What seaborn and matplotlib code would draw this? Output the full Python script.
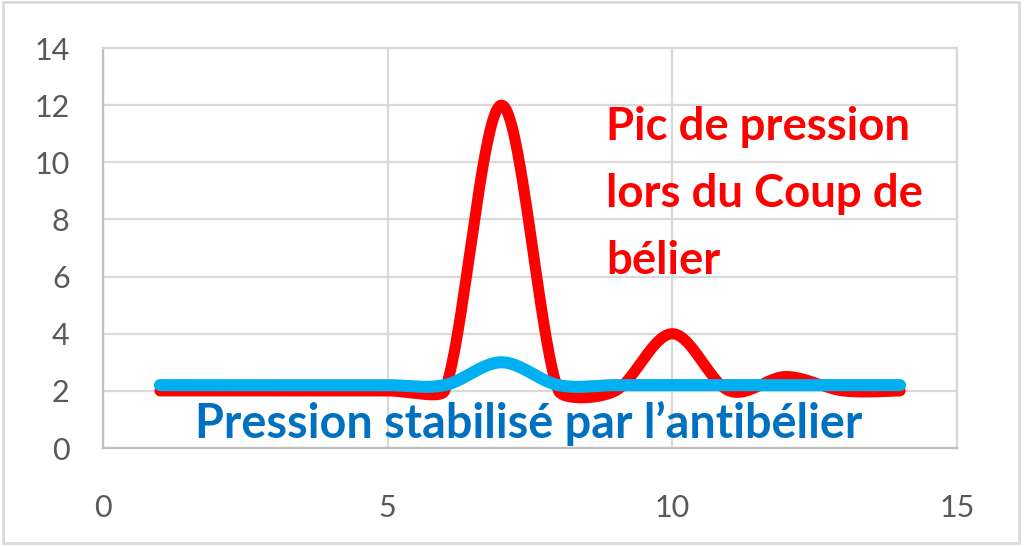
import numpy as np
import pandas as pd
import matplotlib
matplotlib.use("Agg")
import matplotlib.pyplot as plt
import seaborn as sns
from matplotlib.patches import Rectangle

# values
x_points = [1, 2, 3, 4, 5, 6, 7, 8, 9, 10, 11, 12, 13, 14]
pic_pression = [2, 2, 2, 2, 2, 2, 12, 2, 2, 4, 2, 2.5, 2, 2]
pression_antibelier = [2.2, 2.2, 2.2, 2.2, 2.2, 2.2, 3, 2.2, 2.2, 2.2, 2.2, 2.2, 2.2, 2.2]

x_ticks = [0, 5, 10, 15]
y_ticks = [0, 2, 4, 6, 8, 10, 12, 14]

red_label = ["Pic de pression", "lors du Coup de", "bélier"]
blue_label = "Pression stabilisé par l\u2019antibélier"

RED = "#FF0000"
BLUE = "#00B0F0"
DARK_BLUE = "#0070C0"
GRID = "#D9D9D9"
TICK = "#595959"


def smooth(xs, ys, sx=57.0, sy=28.57, n=40):
    # Excel style smoothed line: bezier segments, control arms shortened
    # when the neighbour chord is long compared to the segment (screen pixels)
    p = np.column_stack([np.asarray(xs, float) * sx, np.asarray(ys, float) * sy])
    p = np.vstack([p[0], p, p[-1]])
    out = []
    t = np.linspace(0, 1, n)[:, None]
    for i in range(1, len(p) - 2):
        p0, p1, p2, p3 = p[i - 1], p[i], p[i + 1], p[i + 2]
        d02 = np.linalg.norm(p2 - p0)
        d12 = np.linalg.norm(p2 - p1)
        d13 = np.linalg.norm(p3 - p1)
        f1 = 1 / 6 if d02 / 6 < d12 / 2 else d12 / (6 * d02)
        f2 = 1 / 6 if d13 / 6 < d12 / 2 else d12 / (6 * d13)
        c1 = p1 + (p2 - p0) * f1
        c2 = p2 - (p3 - p1) * f2
        seg = ((1 - t) ** 3) * p1 + 3 * ((1 - t) ** 2) * t * c1 + 3 * (1 - t) * t ** 2 * c2 + t ** 3 * p2
        out.append(seg if i == 1 else seg[1:])
    out = np.vstack(out)
    return pd.DataFrame({"x": out[:, 0] / sx, "y": out[:, 1] / sy})


def main():
    sns.set_theme(style="white")
    plt.rcParams["font.family"] = ["Lato", "DejaVu Sans"]

    fig = plt.figure(figsize=(10.24, 5.46), dpi=100)
    ax = fig.add_axes([103 / 1024, 98 / 546, 854 / 1024, 400 / 546])

    red_df = smooth(x_points, pic_pression)
    blue_df = smooth(x_points, pression_antibelier)

    sns.lineplot(data=red_df, x="x", y="y", sort=False, ax=ax, color=RED,
                 linewidth=8, solid_capstyle="round", zorder=3)
    sns.lineplot(data=blue_df, x="x", y="y", sort=False, ax=ax, color=BLUE,
                 linewidth=8.7, solid_capstyle="round", zorder=4)

    ax.set_xlim(0, 15)
    ax.set_ylim(0, 14)
    ax.set_xticks(x_ticks)
    ax.set_yticks(y_ticks)
    ax.set_xlabel("")
    ax.set_ylabel("")
    ax.grid(True, color=GRID, linewidth=1.6)
    ax.set_axisbelow(True)
    for side in ax.spines.values():
        side.set_color(GRID)
        side.set_linewidth(1.6)
    ax.spines["left"].set_color("#BFBFBF")
    ax.spines["bottom"].set_color("#BFBFBF")
    ax.tick_params(axis="both", length=0, labelsize=22, colors=TICK)
    ax.tick_params(axis="y", pad=24)
    ax.tick_params(axis="x", pad=33)

    # red annotation, one line at a time
    for i, line in enumerate(red_label):
        ax.text(8.84, 10.78 - i * 2.35, line, color=RED, fontsize=32.8,
                fontweight="bold", ha="left", va="baseline", zorder=5)
    ax.text(1.61, 0.35, blue_label, color=DARK_BLUE, fontsize=33.7,
            fontweight="bold", ha="left", va="baseline", zorder=5)

    fig.patches.append(Rectangle((3 / 1024, 3 / 546), 1016 / 1024, 541 / 546,
                                 transform=fig.transFigure, fill=False,
                                 edgecolor=GRID, linewidth=2))

    fig.savefig("out.png", dpi=100)
    plt.close(fig)


if __name__ == "__main__":
    main()
